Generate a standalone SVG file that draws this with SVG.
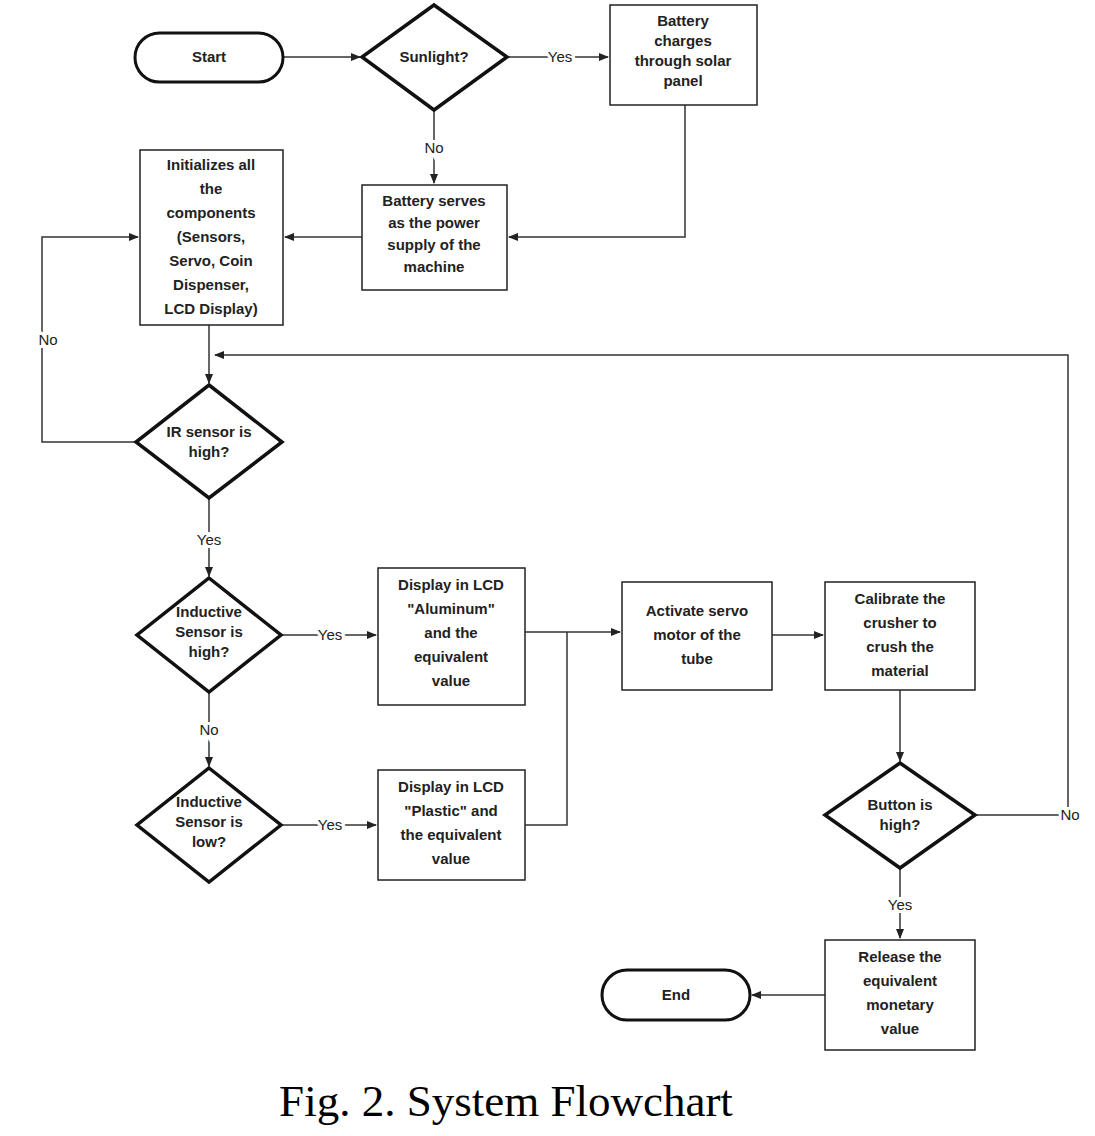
<svg xmlns="http://www.w3.org/2000/svg" width="1095" height="1136" viewBox="0 0 1095 1136">
<style>
.s{fill:#fff;stroke:#222;stroke-width:1.5}
.d{fill:#fff;stroke:#111;stroke-width:3.5}
.t{fill:#fff;stroke:#111;stroke-width:3}
.c{fill:none;stroke:#333;stroke-width:1.5}
text{font-family:"Liberation Sans",Arial,sans-serif;font-size:15px;font-weight:bold;fill:#222;text-anchor:middle}
.l{font-weight:normal}
.bg{fill:#fff;stroke:#fff;stroke-width:6}
</style>
<defs><marker id="a" markerWidth="10" markerHeight="8" refX="9" refY="4" orient="auto" markerUnits="userSpaceOnUse"><path d="M0,0L10,4L0,8z" fill="#222"/></marker></defs>
<rect width="1095" height="1136" fill="#fff"/>
<g id="connectors" class="c">
<path class="c" d="M283,57H360" marker-end="url(#a)"/>
<path class="c" d="M507,57H608" marker-end="url(#a)"/>
<path class="c" d="M434,110V183" marker-end="url(#a)"/>
<path class="c" d="M685,105V237H509" marker-end="url(#a)"/>
<path class="c" d="M362,237H285" marker-end="url(#a)"/>
<path class="c" d="M209,325V383" marker-end="url(#a)"/>
<path class="c" d="M136,442H42V237H138" marker-end="url(#a)"/>
<path class="c" d="M209,498V576" marker-end="url(#a)"/>
<path class="c" d="M281,635H376" marker-end="url(#a)"/>
<path class="c" d="M209,692V766" marker-end="url(#a)"/>
<path class="c" d="M281,825H376" marker-end="url(#a)"/>
<path class="c" d="M525,632H567M525,825H567V632"/>
<path class="c" d="M567,632H620" marker-end="url(#a)"/>
<path class="c" d="M772,635H823" marker-end="url(#a)"/>
<path class="c" d="M900,690V761" marker-end="url(#a)"/>
<path class="c" d="M975,815H1068V355H215" marker-end="url(#a)"/>
<path class="c" d="M900,868V938" marker-end="url(#a)"/>
<path class="c" d="M825,995H752" marker-end="url(#a)"/>
</g>
<g id="labels">
<text class="l bg" x="560" y="62">Yes</text><text class="l" x="560" y="62">Yes</text>
<text class="l bg" x="434" y="153">No</text><text class="l" x="434" y="153">No</text>
<text class="l bg" x="48" y="345">No</text><text class="l" x="48" y="345">No</text>
<text class="l bg" x="209" y="545">Yes</text><text class="l" x="209" y="545">Yes</text>
<text class="l bg" x="330" y="640">Yes</text><text class="l" x="330" y="640">Yes</text>
<text class="l bg" x="209" y="735">No</text><text class="l" x="209" y="735">No</text>
<text class="l bg" x="330" y="830">Yes</text><text class="l" x="330" y="830">Yes</text>
<text class="l bg" x="1070" y="820">No</text><text class="l" x="1070" y="820">No</text>
<text class="l bg" x="900" y="910">Yes</text><text class="l" x="900" y="910">Yes</text>
</g>
<g id="start"><rect class="t" x="135" y="33" width="148" height="49" rx="24.5"/><text x="209" y="62">Start</text></g>
<g id="sunlight"><path class="d" d="M434,5L507,57L434,110L362,57z"/><text x="434" y="62">Sunlight?</text></g>
<g id="charges"><rect class="s" x="610" y="5" width="147" height="100"/><text x="683" y="26">Battery</text><text x="683" y="46">charges</text><text x="683" y="66">through solar</text><text x="683" y="86">panel</text></g>
<g id="serves"><rect class="s" x="362" y="185" width="145" height="105"/><text x="434" y="206">Battery serves</text><text x="434" y="228">as the power</text><text x="434" y="250">supply of the</text><text x="434" y="272">machine</text></g>
<g id="init"><rect class="s" x="140" y="150" width="143" height="175"/><text x="211" y="170">Initializes all</text><text x="211" y="194">the</text><text x="211" y="218">components</text><text x="211" y="242">(Sensors,</text><text x="211" y="266">Servo, Coin</text><text x="211" y="290">Dispenser,</text><text x="211" y="314">LCD Display)</text></g>
<g id="ir"><path class="d" d="M209,385L282,442L209,498L136,442z"/><text x="209" y="437">IR sensor is</text><text x="209" y="457">high?</text></g>
<g id="ind1"><path class="d" d="M209,578L281,635L209,692L137,635z"/><text x="209" y="617">Inductive</text><text x="209" y="637">Sensor is</text><text x="209" y="657">high?</text></g>
<g id="ind2"><path class="d" d="M209,768L281,825L209,882L137,825z"/><text x="209" y="807">Inductive</text><text x="209" y="827">Sensor is</text><text x="209" y="847">low?</text></g>
<g id="alu"><rect class="s" x="378" y="568" width="147" height="137"/><text x="451" y="590">Display in LCD</text><text x="451" y="614">"Aluminum"</text><text x="451" y="638">and the</text><text x="451" y="662">equivalent</text><text x="451" y="686">value</text></g>
<g id="plastic"><rect class="s" x="378" y="770" width="147" height="110"/><text x="451" y="792">Display in LCD</text><text x="451" y="816">"Plastic" and</text><text x="451" y="840">the equivalent</text><text x="451" y="864">value</text></g>
<g id="activate"><rect class="s" x="622" y="582" width="150" height="108"/><text x="697" y="616">Activate servo</text><text x="697" y="640">motor of the</text><text x="697" y="664">tube</text></g>
<g id="calibrate"><rect class="s" x="825" y="582" width="150" height="108"/><text x="900" y="604">Calibrate the</text><text x="900" y="628">crusher to</text><text x="900" y="652">crush the</text><text x="900" y="676">material</text></g>
<g id="button"><path class="d" d="M900,763L975,815L900,868L825,815z"/><text x="900" y="810">Button is</text><text x="900" y="830">high?</text></g>
<g id="release"><rect class="s" x="825" y="940" width="150" height="110"/><text x="900" y="962">Release the</text><text x="900" y="986">equivalent</text><text x="900" y="1010">monetary</text><text x="900" y="1034">value</text></g>
<g id="end"><rect class="t" x="602" y="970" width="148" height="50" rx="25"/><text x="676" y="1000">End</text></g>
<text class="l" x="506" y="1116" style="font-family:'Liberation Serif',serif;font-size:45px;fill:#000">Fig. 2. System Flowchart</text>
</svg>
